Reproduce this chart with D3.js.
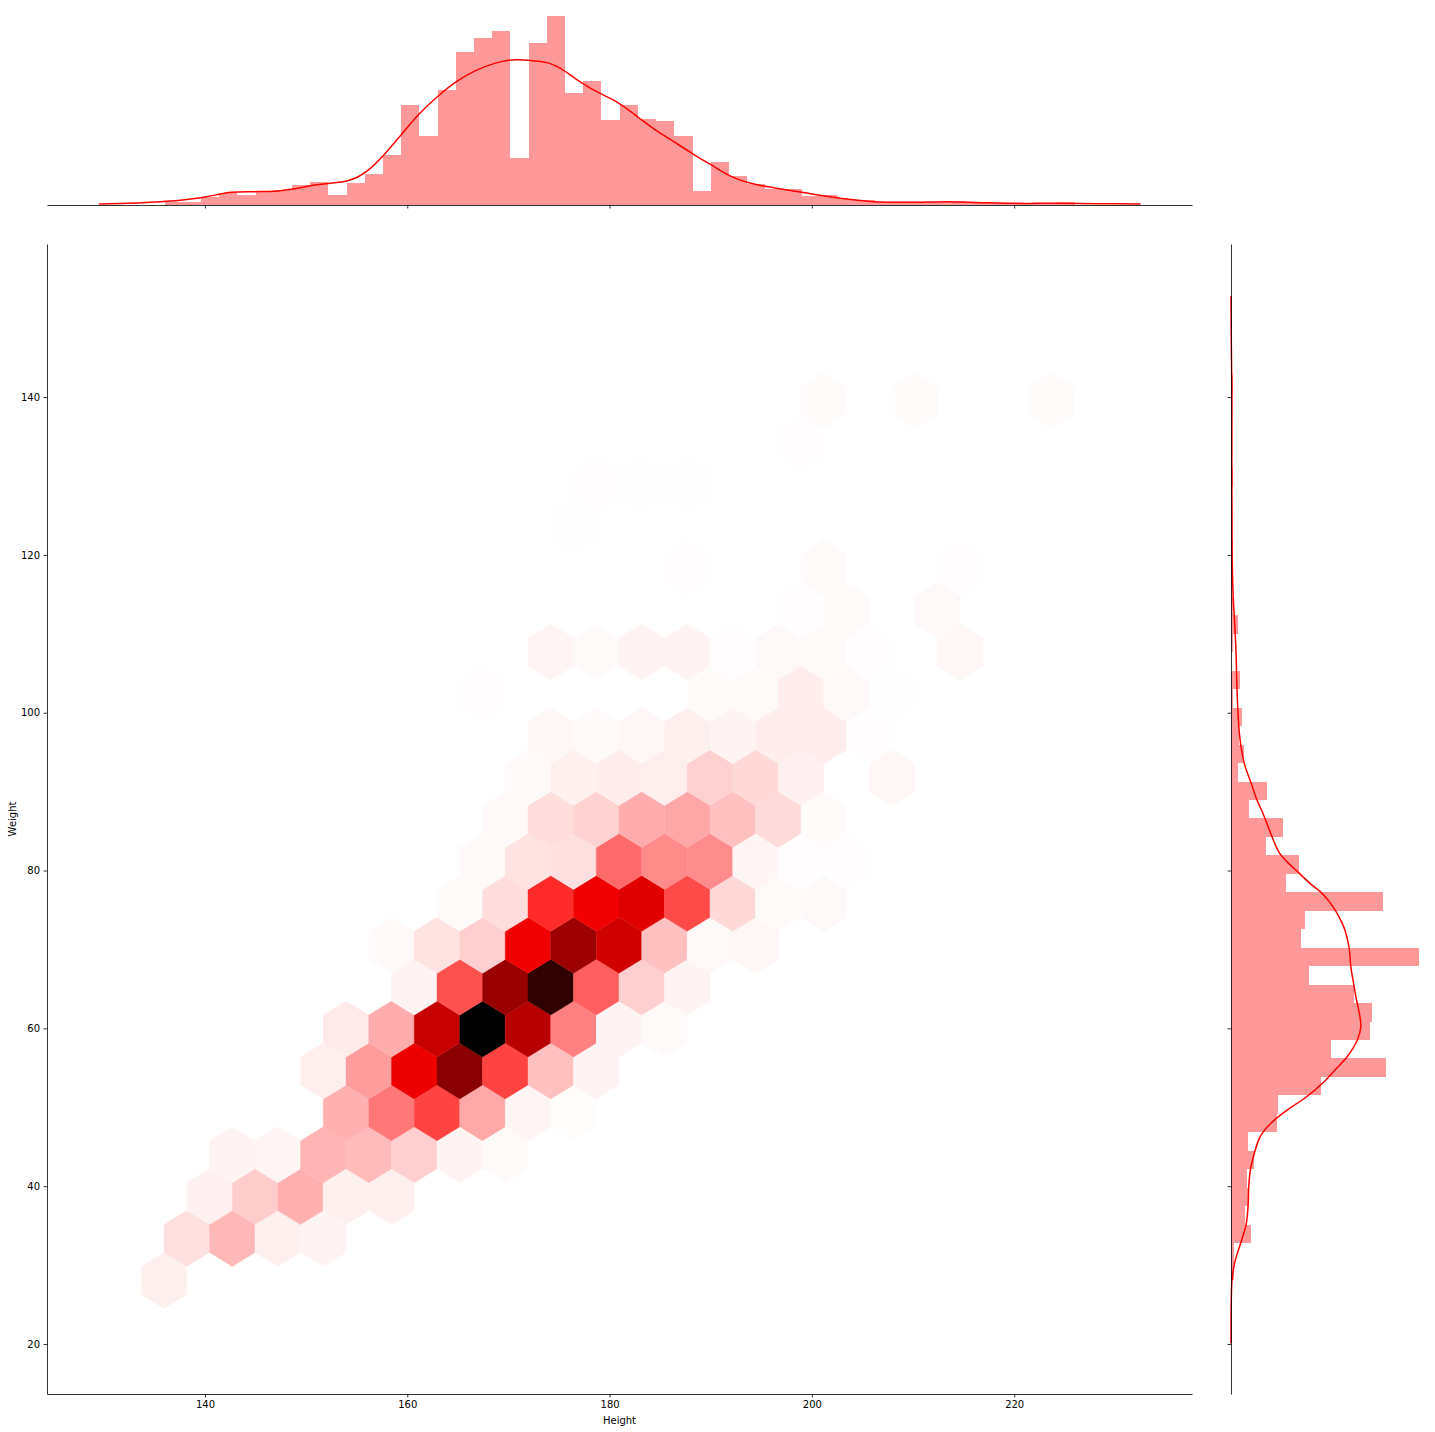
<!DOCTYPE html>
<html>
<head>
<meta charset="utf-8">
<script src="https://cdn.jsdelivr.net/npm/d3@7"></script>
<style>
html,body{margin:0;padding:0;background:#fff;}
svg{display:block;}
text{font-family:"DejaVu Sans",sans-serif;font-size:10px;fill:#000;}
</style>
</head>
<body>
<svg id="chart" width="1435" height="1432"></svg>
<script>
// ---- hexbin grid (bin origin and spacing in data units) ----
const hexHeightStart = 135.95, hexHeightStep = 2.249;
const hexWeightStart = 28.05, hexWeightStep = 5.31;
// One entry per row from the bottom: bin columns and the colour level (0-100) of each.
const hexColumns = [
  [0],
  [1,3,5,7],
  [2,4,6,8,10],
  [3,5,7,9,11,13,15],
  [8,10,12,14,16,18],
  [7,9,11,13,15,17,19],
  [8,10,12,14,16,18,20,22],
  [11,13,15,17,19,21,23],
  [10,12,14,16,18,20,22,24,26],
  [13,15,17,19,21,23,25,27,29],
  [14,16,18,20,22,24,26,28,30],
  [15,17,19,21,23,25,27,29],
  [16,18,20,22,24,26,28,32],
  [17,19,21,23,25,27,29,31],
  [14,24,26,28,30,32],
  [17,19,21,23,25,27,29,31,35],
  [28,30,34],
  [23,29,35],
  [18],
  [19,21,23],
  [28],
  [29,33,39]
];
const hexLevels = [
  [2.9],
  [6,13.9,2.9,2.2],
  [2.7,10,15.5,2.9,2.9],
  [2.4,2,14.5,13.5,9.4,2.2,1],
  [15.5,26.7,36.9,17,2,0.6],
  [3.3,19.4,53.3,73,37,12.4,2.4],
  [4.1,16.3,61,100,64,25,2.2,1],
  [2.4,34.3,70,90.6,31.4,9.4,2.2],
  [1.2,5.7,9.4,53,69.4,59,12.4,1.4,1.8],
  [1,6.7,41.8,53,56,35.5,7.6,1,1.4],
  [1.2,5.7,6,29,23,22.5,2,0.4,0.4],
  [1.2,6.7,8.8,16.3,17.5,12.4,7.3,0.8],
  [1.2,2.9,3.7,3.3,9.2,7.6,2.7,1.8],
  [1.8,1.2,1.6,2.9,2.2,3.7,3.7,0.4],
  [0.4,0.8,1,3.7,1.4,0.2],
  [2,1,2.4,2.4,0.4,1.4,1,0.4,1.8],
  [0.4,1,1.4],
  [0.4,1,0.4],
  [0.2],
  [0.4,0.2,0.2],
  [0.4],
  [0.8,0.8,0.8]
];

// ---- top histogram of Height (density x 1000) ----
const heightBinStart = 136.0, heightBinWidth = 1.8;
const heightHist = [0.8,0.8,1.84,2.84,2.38,3.14,3.45,4.68,5.37,2.38,5.14,7.2,11.58,23.08,15.95,26.53,35.27,38.5,40.1,10.89,37.34,43.55,25.84,28.6,19.63,23.08,19.86,19.4,15.95,3.3,9.97,6.75,4.9,3.76,3.76,2.15,2.38,1.45,1.22,0.61,0.61,0.7,0.77,1,0.7,0.4,0.4,0.4,0.4,0.58];
const heightKdeX = [129.5,133.1,136.2,139.6,142.6,144.9,146.8,148.7,150.9,152.4,154,155.1,156.2,157.7,159.4,161.1,163,164.9,166.8,168.7,170,171,172.9,174,175.1,176.7,178.5,180.9,182.8,184.6,186.3,188.1,190,191.8,193.6,195.4,199,202.6,206.1,209.7,213.3,216.9,220,224.4,228.2,232.5];
const heightKdeY = [0.23,0.46,0.84,1.69,2.91,3.07,3.14,3.68,4.6,4.99,5.52,6.44,8.13,11.58,16.18,20.78,25,28.46,30.99,32.67,33.36,33.44,33.13,32.67,31.52,28.99,26.38,23.47,20.25,17.18,14.65,11.97,9.28,6.83,5.22,4.3,2.91,1.61,0.77,0.61,0.77,0.54,0.38,0.38,0.31,0.23];

// ---- right histogram of Weight (density x 1000) ----
const weightBinStart = 25.76, weightBinWidth = 2.34;
const weightHist = [0.21,0.63,0.69,4.24,2.99,3.55,3.41,4.87,3.62,9.47,9.68,18.66,32.25,20.75,28.9,29.32,25.56,16.16,39.15,14.48,15.32,31.62,11.35,14.07,7.38,10.72,3.82,7.59,1.53,2.78,1.61,2.36,0.48,1.94,0,0.48,1.53,0.42,0.21,0.31,0.42,0.17,0.1,0.1,0.42,0.1,0.1,0.1,0.1,0.48];
const weightKdeY = [20.1,23.9,26,28.1,30.3,32.8,35.1,37.4,39.9,42.1,44.2,45.9,47.1,48.4,49.7,51.3,53.1,54.7,56.4,58.5,60.2,62,64,65.5,67.8,70.2,72.5,74.1,75.4,77.2,78.4,79.7,81,82.2,83.5,85.1,87.3,88.9,91.1,93.1,94.9,97.4,100,102.9,107.6,112.1,114.3,119.4,125.7,130.8,140.2,143.4,148.5,152.8];
const weightKdeX = [0,0.01,0.07,0.21,0.77,2.02,3.14,3.55,3.69,4.04,4.88,5.78,6.97,9.06,11.84,15.68,19.16,21.6,24.17,26.26,27.03,26.68,25.99,25.57,24.94,24.59,23.69,22.5,21.25,18.81,16.37,14.14,11.84,10.1,9.06,8.01,6.62,5.43,4.18,2.99,2.3,1.74,1.46,1.25,1.05,0.7,0.49,0.25,0.2,0.17,0.19,0.13,0.04,0];

// ---- axes ----
const heightTicks = [140,160,180,200,220];
const weightTicks = [20,40,60,80,100,120,140];
const xLabel = "Height", yLabel = "Weight";
const heightDomain = [124.38,237.58], weightDomain = [13.66,159.4];
const topDensityMax = 45.6, rightDensityMax = 41.0;

// ---- layout ----
const main = {left:47, right:1192, top:244, bottom:1394};
const topPanel = {baseline:205, top:7};
const rightPanel = {baseline:1231, right:1428};
const histColor = "#ff9999", kdeColor = "#ff0000";

const svg = d3.select("#chart");
const x = d3.scaleLinear().domain(heightDomain).range([main.left, main.right]);
const y = d3.scaleLinear().domain(weightDomain).range([main.bottom, main.top]);
const topY = d3.scaleLinear().domain([0, topDensityMax]).range([topPanel.baseline, topPanel.top]);
const rightX = d3.scaleLinear().domain([0, rightDensityMax]).range([rightPanel.baseline, rightPanel.right]);
const color = d3.scaleLinear().domain([0,50,100]).range(["#ffffff","#ff0000","#000000"]);

// hexbins
const hexes = [];
hexColumns.forEach((cols, row) => cols.forEach((c, i) => hexes.push({
  h: hexHeightStart + c*hexHeightStep,
  w: hexWeightStart + row*hexWeightStep,
  level: hexLevels[row][i]
})));
const hexPath = d => {
  const dx = hexHeightStep, r = hexWeightStep*2/3, s = hexWeightStep/3;
  const pts = [[d.h,d.w+r],[d.h+dx,d.w+s],[d.h+dx,d.w-s],[d.h,d.w-r],[d.h-dx,d.w-s],[d.h-dx,d.w+s]];
  return "M"+pts.map(p => x(p[0]).toFixed(2)+","+y(p[1]).toFixed(2)).join("L")+"Z";
};
svg.append("g").attr("class","hexes").selectAll("path").data(hexes).join("path")
  .attr("d", hexPath)
  .attr("fill", d => color(d.level))
  .attr("stroke", d => color(d.level))
  .attr("stroke-width", 0.4);

// top histogram
svg.append("g").attr("class","top-hist").selectAll("rect").data(heightHist).join("rect")
  .attr("x", (d,i) => x(heightBinStart + i*heightBinWidth))
  .attr("width", (d,i) => x(heightBinStart + (i+1)*heightBinWidth) - x(heightBinStart + i*heightBinWidth))
  .attr("y", d => topY(d))
  .attr("height", d => topY(0) - topY(d))
  .attr("fill", histColor)
  .attr("shape-rendering","crispEdges");
svg.append("path")
  .attr("d", d3.line().x(d => x(d[0])).y(d => topY(d[1])).curve(d3.curveCatmullRom)(d3.zip(heightKdeX, heightKdeY)))
  .attr("fill","none").attr("stroke",kdeColor).attr("stroke-width",1.5);

// right histogram
svg.append("g").attr("class","right-hist").selectAll("rect").data(weightHist).join("rect")
  .attr("x", rightX(0))
  .attr("width", d => rightX(d) - rightX(0))
  .attr("y", (d,i) => y(weightBinStart + (i+1)*weightBinWidth))
  .attr("height", (d,i) => y(weightBinStart + i*weightBinWidth) - y(weightBinStart + (i+1)*weightBinWidth))
  .attr("fill", histColor)
  .attr("shape-rendering","crispEdges");
svg.append("path")
  .attr("d", d3.line().x(d => rightX(d[0])).y(d => y(d[1])).curve(d3.curveCatmullRom)(d3.zip(weightKdeX, weightKdeY)))
  .attr("fill","none").attr("stroke",kdeColor).attr("stroke-width",1.5);

// axes
function styleAxis(g){
  g.selectAll(".domain").attr("stroke","#000").attr("stroke-width",0.8);
  g.selectAll(".tick line").attr("stroke","#000").attr("stroke-width",0.8);
  g.selectAll("text").attr("font-family",null).attr("font-size",null);
  g.attr("font-family",null).attr("font-size",null);
}
const bottomAxis = d3.axisBottom(x).tickValues(heightTicks).tickSize(3.5).tickSizeOuter(0).tickPadding(3.5);
const leftAxis = d3.axisLeft(y).tickValues(weightTicks).tickSize(3.5).tickSizeOuter(0).tickPadding(3.5);

svg.append("g").attr("transform",`translate(0,${main.bottom})`).call(bottomAxis).call(styleAxis);
svg.append("g").attr("transform",`translate(${main.left},0)`).call(leftAxis).call(styleAxis);
svg.append("g").attr("transform",`translate(0,${topPanel.baseline})`)
  .call(d3.axisBottom(x).tickValues(heightTicks).tickSize(3.5).tickSizeOuter(0).tickFormat(""))
  .call(styleAxis);
svg.append("g").attr("transform",`translate(${rightPanel.baseline},0)`)
  .call(d3.axisLeft(y).tickValues(weightTicks).tickSize(3.5).tickSizeOuter(0).tickFormat(""))
  .call(styleAxis);

// axis titles
svg.append("text").attr("x",(main.left+main.right)/2).attr("y",1424).attr("text-anchor","middle").text(xLabel);
svg.append("text").attr("transform",`translate(15.5,${(main.top+main.bottom)/2}) rotate(-90)`).attr("text-anchor","middle").text(yLabel);
</script>
</body>
</html>
